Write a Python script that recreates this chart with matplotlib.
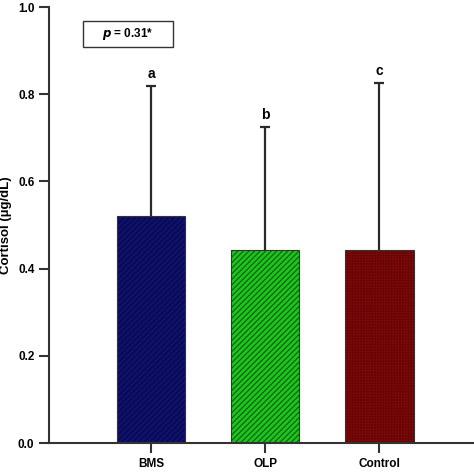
import matplotlib
matplotlib.use('Agg')
import matplotlib.pyplot as plt
from matplotlib.patches import Rectangle
import numpy as np

plt.rcParams['font.family'] = ['Liberation Sans', 'DejaVu Sans']
plt.rcParams['font.weight'] = 'bold'
plt.rcParams['hatch.linewidth'] = 0.8

# Data
groups = ['BMS', 'OLP', 'Control']
means = [0.52, 0.442, 0.443]
upper_err = [0.299, 0.283, 0.383]
letters = ['a', 'b', 'c']
bar_colors = ['#0a0a5c', '#1ec41e', '#640000']
hatch_colors = ['#16186e', '#0a5a0a', '#760a0a']
hatches = ['//////', '//////', '++++++']
yticks = [0.0, 0.2, 0.4, 0.6, 0.8, 1.0]

fig = plt.figure(figsize=(4.74, 4.74), dpi=100)
ax = fig.add_axes([49 / 474, 31 / 474, 425 / 474, 436 / 474])

x = np.arange(len(groups))
tops = np.array(means) + np.array(upper_err)

# error bars (upper half only)
ax.vlines(x, means, tops, color='#2a2a2a', linewidth=1.6, zorder=1)
ax.hlines(tops, x - 0.045, x + 0.045, color='#2a2a2a', linewidth=1.6, zorder=1)

for i in range(len(groups)):
    ax.bar(x[i], means[i], width=0.6, color=bar_colors[i], edgecolor=hatch_colors[i],
           hatch=hatches[i], linewidth=0, zorder=2)
    ax.bar(x[i], means[i], width=0.6, color='none', edgecolor='#333333',
           linewidth=0.8, zorder=3)
    ax.text(x[i], tops[i] + 0.012, letters[i], ha='center', va='bottom',
            fontsize=10, fontweight='bold')

ax.set_xlim(-0.895, 2.83)
ax.set_ylim(0, 1.0)
ax.set_yticks(yticks)
ax.set_yticklabels([f'{t:.1f}' for t in yticks])
ax.set_xticks(x)
ax.set_xticklabels(groups)

for s in ['top', 'right']:
    ax.spines[s].set_visible(False)
for s in ['left', 'bottom']:
    ax.spines[s].set_linewidth(1.5)
    ax.spines[s].set_color('#333333')

ax.tick_params(axis='both', direction='out', length=7, width=1.5, color='#333333',
               labelsize=8.5)
ax.tick_params(axis='x', pad=4)
for lbl in ax.get_xticklabels() + ax.get_yticklabels():
    lbl.set_fontweight('bold')

# p-value box
box = Rectangle(((83 - 49) / 425, 1 - 40 / 436), 90 / 425, 26 / 436,
                transform=ax.transAxes, facecolor='white', edgecolor='#333333',
                linewidth=1.0, clip_on=False, zorder=4)
ax.add_patch(box)
ax.text((128 - 49) / 425, 1 - 27 / 436, r'$\bfit{p}$ = 0.31*',
        transform=ax.transAxes, ha='center', va='center', fontsize=8.5,
        fontweight='bold', zorder=5)

fig.text(6 / 474, 0.525, 'Cortisol (µg/dL)', rotation=90, ha='center', va='center',
         fontsize=9.5, fontweight='bold')

fig.savefig('out.png', dpi=100)
